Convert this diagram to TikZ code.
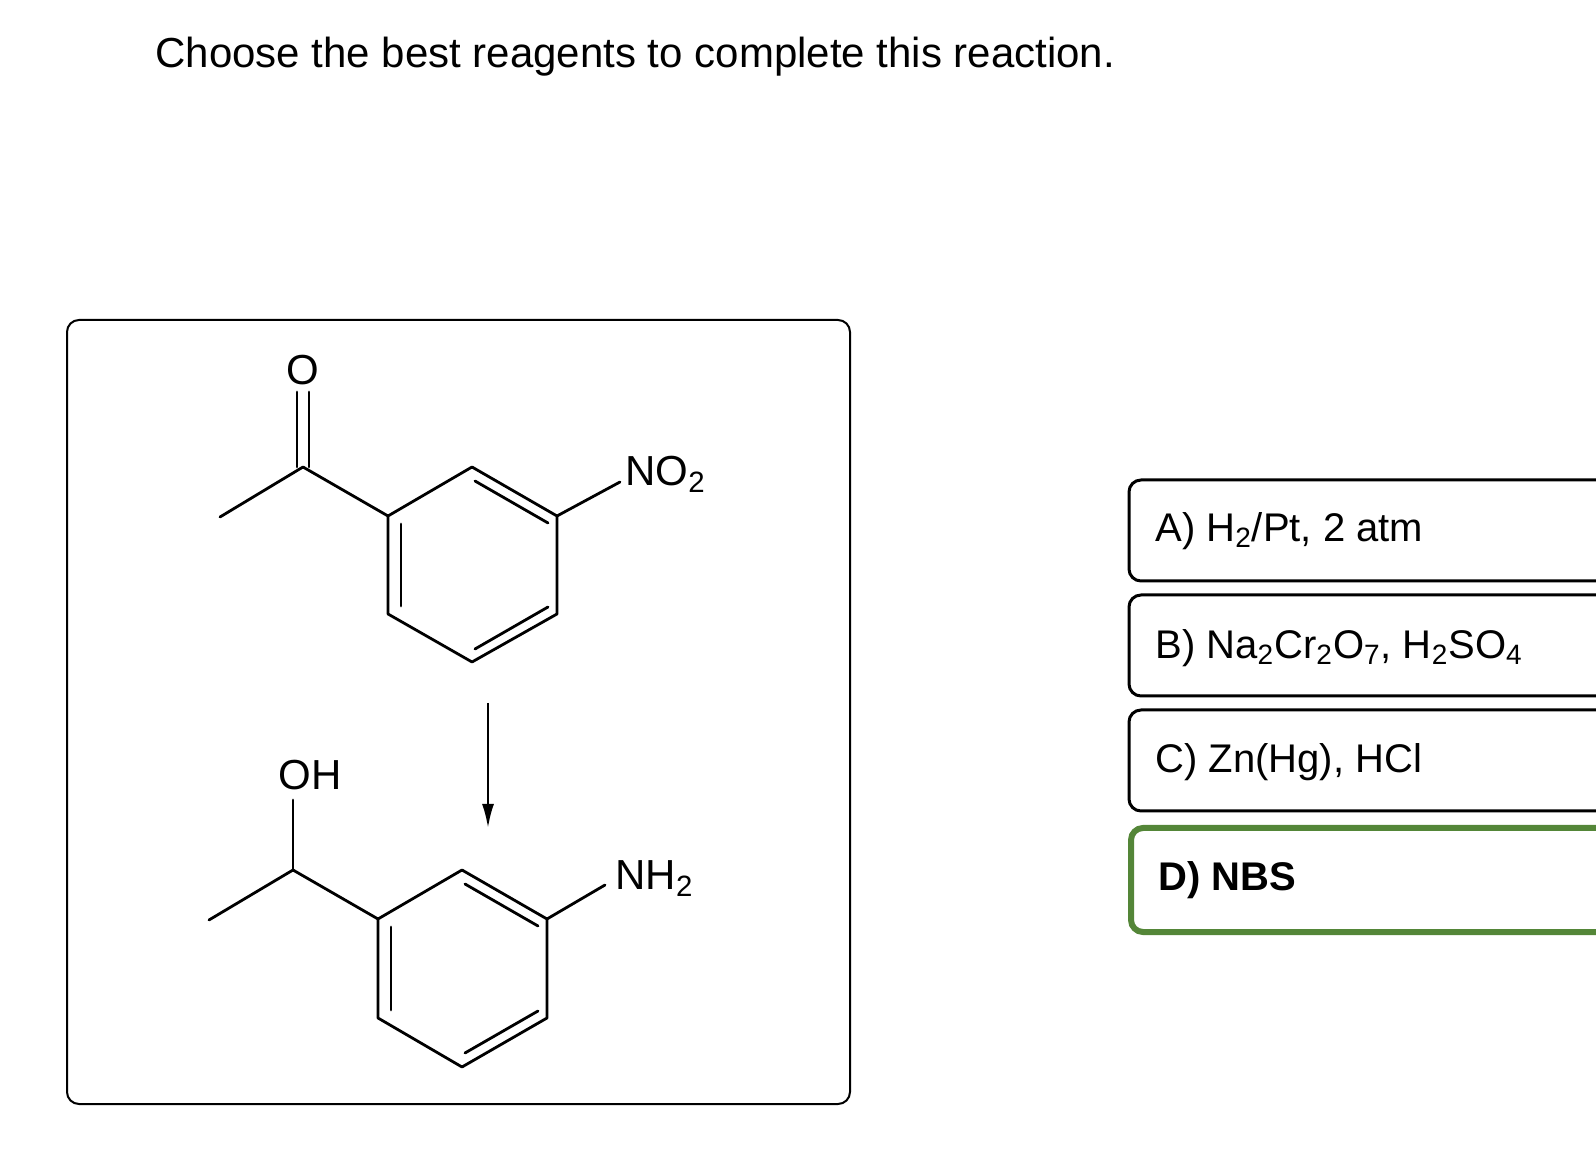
\documentclass[tikz,border=0pt]{standalone}
\usepackage{fontspec}
\setmainfont{Liberation Sans}
\usetikzlibrary{arrows.meta}
\begin{document}
\begin{tikzpicture}[x=0.5pt,y=-0.5pt,
  bond/.style={line width=1.4pt,line cap=round,line join=round},
  lbl/.style={inner sep=0pt,font=\fontsize{21}{25}\selectfont},
  ans/.style={draw,line width=1.5pt,rounded corners=6pt},
  anstext/.style={anchor=west,inner sep=0pt,font=\fontsize{20}{24}\selectfont}]
\useasboundingbox (0,0) rectangle (1596,1159);
\node[anchor=base west,inner sep=0pt,font=\fontsize{21}{25}\selectfont] (title) at (155,68) {Choose the best reagents to complete this reaction.};
\draw[line width=1pt,rounded corners=6pt] (67,320) rectangle (850,1104);
% top molecule
\coordinate (a1) at (472,467); \coordinate (a2) at (557,516); \coordinate (a3) at (557,614);
\coordinate (a4) at (472,662); \coordinate (a5) at (388,614); \coordinate (a6) at (388,516);
\draw[bond] (a1)--(a2)--(a3)--(a4)--(a5)--(a6)--cycle;
\draw[bond] (475,481)--(548,523);
\draw[bond] (548,607)--(475,649);
\draw[bond] (401,524)--(401,606);
\node[lbl] (O) at (303,370) {O};
\draw[bond] (a6)--(303,467)--(220,517);
\draw[bond] (297,467)--(297,392); \draw[bond] (309,467)--(309,392);
\node[lbl,anchor=base west] (no2) at (625,486) {NO\textsubscript{2}};
\draw[bond] (a2)--(620,482);
% arrow
\coordinate (ar1) at (488,703); \coordinate (ar2) at (488,828);
\draw[line width=1.2pt,-{Latex[length=12pt,width=6pt]}] (ar1)--(ar2);
% bottom molecule
\coordinate (b1) at (462,870); \coordinate (b2) at (547,919); \coordinate (b3) at (547,1018);
\coordinate (b4) at (462,1067); \coordinate (b5) at (378,1018); \coordinate (b6) at (378,919);
\draw[bond] (b1)--(b2)--(b3)--(b4)--(b5)--(b6)--cycle;
\draw[bond] (465,884)--(538,926);
\draw[bond] (538,1011)--(465,1053);
\draw[bond] (391,927)--(391,1010);
\node[lbl] (OH) at (310,775) {OH};
\draw[bond] (b6)--(293,870)--(209,920);
\draw[bond] (293,870)--(293,800);
\node[lbl,anchor=base west] (nh2) at (615,890) {NH\textsubscript{2}};
\draw[bond] (b2)--(605,885);
% answers
\begin{scope}
\clip (1000,400) rectangle (1596,1000);
\draw[ans] (1129,480) rectangle (1700,581);
\draw[ans] (1129,595) rectangle (1700,696);
\draw[ans] (1129,710) rectangle (1700,811);
\draw[ans,draw={rgb,255:red,84;green,134;blue,56},line width=3pt] (1131,828) rectangle (1700,932);
\end{scope}
\node[anstext] (A) at (1155,531) {A) H\textsubscript{2}/Pt, 2 atm};
\node[anstext] (B) at (1155,648) {B) Na\textsubscript{2}Cr\textsubscript{2}O\textsubscript{7}, H\textsubscript{2}SO\textsubscript{4}};
\node[anstext] (C) at (1155,762) {C) Zn(Hg), HCl};
\node[anstext,font=\fontsize{20}{24}\selectfont\bfseries] (D) at (1158,880) {D) NBS};
\end{tikzpicture}
\end{document}
